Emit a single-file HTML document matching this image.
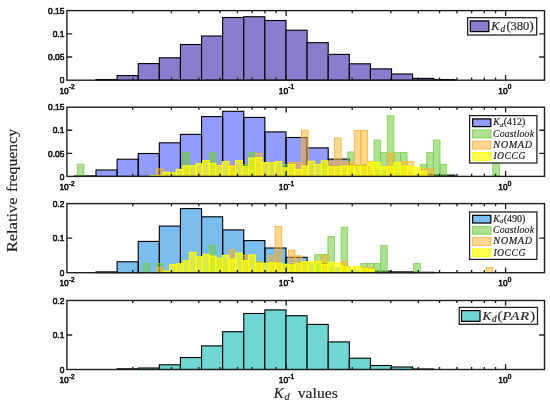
<!DOCTYPE html>
<html><head><meta charset="utf-8"><title>Kd histograms</title>
<style>
html,body{margin:0;padding:0;background:#fff;}
svg{display:block}
.t{font-family:"Liberation Sans",Arial,Helvetica,sans-serif;font-weight:normal;font-size:8.4px;fill:#101010;stroke:#101010;stroke-width:0.55px}
.s{font-family:"Liberation Serif","Times New Roman",serif;fill:#1e1e1e;stroke:#1e1e1e;stroke-width:0.18px}
.i{font-style:italic}
</style></head><body>
<svg width="550" height="405" viewBox="0 0 550 405">
<rect width="550" height="405" fill="#fff"/>
<!-- panel 1 -->
<g fill="#8B7DCD" stroke="#000" stroke-width="1.1"><rect x="96.00" y="79.50" width="21.11" height="0.70"/><rect x="117.11" y="75.60" width="21.11" height="4.60"/><rect x="138.22" y="63.60" width="21.11" height="16.60"/><rect x="159.33" y="57.80" width="21.11" height="22.40"/><rect x="180.44" y="44.50" width="21.11" height="35.70"/><rect x="201.55" y="36.00" width="21.11" height="44.20"/><rect x="222.66" y="17.50" width="21.11" height="62.70"/><rect x="243.77" y="16.70" width="21.11" height="63.50"/><rect x="264.88" y="20.50" width="21.11" height="59.70"/><rect x="285.99" y="30.20" width="21.11" height="50.00"/><rect x="307.10" y="42.70" width="21.11" height="37.50"/><rect x="328.21" y="54.40" width="21.11" height="25.80"/><rect x="349.32" y="63.80" width="21.11" height="16.40"/><rect x="370.43" y="68.90" width="21.11" height="11.30"/><rect x="391.54" y="74.00" width="21.11" height="6.20"/><rect x="412.65" y="78.40" width="21.11" height="1.80"/><rect x="433.76" y="79.50" width="21.11" height="0.70"/></g>
<path d="M132.76 80.2v-2.6M132.76 10.6v2.6M171.40 80.2v-2.6M171.40 10.6v2.6M198.82 80.2v-2.6M198.82 10.6v2.6M220.09 80.2v-2.6M220.09 10.6v2.6M237.47 80.2v-2.6M237.47 10.6v2.6M252.16 80.2v-2.6M252.16 10.6v2.6M264.88 80.2v-2.6M264.88 10.6v2.6M276.11 80.2v-2.6M276.11 10.6v2.6M286.15 80.2v-5.3M286.15 10.6v5.3M352.21 80.2v-2.6M352.21 10.6v2.6M390.85 80.2v-2.6M390.85 10.6v2.6M418.27 80.2v-2.6M418.27 10.6v2.6M439.54 80.2v-2.6M439.54 10.6v2.6M456.92 80.2v-2.6M456.92 10.6v2.6M471.61 80.2v-2.6M471.61 10.6v2.6M484.33 80.2v-2.6M484.33 10.6v2.6M495.56 80.2v-2.6M495.56 10.6v2.6M505.60 80.2v-5.3M505.60 10.6v5.3M66.9 57.00h5.3M544.5 57.00h-5.3M66.9 33.80h5.3M544.5 33.80h-5.3" stroke="#1e1e1e" stroke-width="1.35" fill="none"/>
<rect x="66.9" y="10.6" width="477.60" height="69.60" fill="none" stroke="#1e1e1e" stroke-width="1.4"/>
<text class="t" x="64.3" y="83.40" text-anchor="end">0</text><text class="t" x="64.3" y="60.20" text-anchor="end">0.05</text><text class="t" x="64.3" y="37.00" text-anchor="end">0.1</text><text class="t" x="64.3" y="13.80" text-anchor="end">0.15</text>
<text class="t" x="59.40" y="93.80">10<tspan dx="0.1" dy="-4.4" font-size="6.5px">-2</tspan></text><text class="t" x="278.85" y="93.80">10<tspan dx="0.1" dy="-4.4" font-size="6.5px">-1</tspan></text><text class="t" x="498.30" y="93.80">10<tspan dx="0.1" dy="-4.4" font-size="6.5px">0</tspan></text>
<!-- panel 2 -->
<clipPath id="cy1"><path clip-rule="evenodd" d="M0 0H550V405H0ZM149.54 175.30h7.19v1.40h-7.19zM156.14 175.10h7.19v1.60h-7.19zM162.73 171.90h7.19v4.80h-7.19zM169.33 172.50h7.19v4.20h-7.19zM175.92 169.10h7.19v7.60h-7.19zM182.52 165.50h7.19v11.20h-7.19zM189.11 165.50h7.19v11.20h-7.19zM195.71 163.40h7.19v13.30h-7.19zM202.30 160.40h7.19v16.30h-7.19zM208.90 163.00h7.19v13.70h-7.19zM215.50 165.20h7.19v11.50h-7.19zM222.09 161.30h7.19v15.40h-7.19zM228.69 166.20h7.19v10.50h-7.19zM235.28 160.40h7.19v16.30h-7.19zM241.88 166.20h7.19v10.50h-7.19zM248.47 157.90h7.19v18.80h-7.19zM255.06 157.30h7.19v19.40h-7.19zM261.66 162.40h7.19v14.30h-7.19zM268.25 162.70h7.19v14.00h-7.19zM274.85 161.30h7.19v15.40h-7.19zM281.44 167.60h7.19v9.10h-7.19zM288.04 164.20h7.19v12.50h-7.19zM294.63 169.40h7.19v7.30h-7.19zM301.23 165.70h7.19v11.00h-7.19zM307.82 161.00h7.19v15.70h-7.19zM314.42 164.20h7.19v12.50h-7.19zM321.01 160.50h7.19v16.20h-7.19zM327.61 166.50h7.19v10.20h-7.19zM334.20 166.50h7.19v10.20h-7.19zM340.80 165.70h7.19v11.00h-7.19zM347.39 165.70h7.19v11.00h-7.19zM353.99 165.70h7.19v11.00h-7.19zM360.58 165.70h7.19v11.00h-7.19zM367.18 162.10h7.19v14.60h-7.19zM373.77 162.10h7.19v14.60h-7.19zM380.37 166.50h7.19v10.20h-7.19zM386.96 166.50h7.19v10.20h-7.19zM393.56 162.10h7.19v14.60h-7.19zM400.15 165.70h7.19v11.00h-7.19zM406.75 166.10h7.19v10.60h-7.19zM413.34 167.20h7.19v9.50h-7.19zM419.94 170.90h7.19v5.80h-7.19z"/></clipPath>
<g fill="#929CFA" stroke="none" stroke-width="0"><rect x="74.89" y="175.90" width="21.11" height="0.50"/><rect x="96.00" y="170.00" width="21.11" height="6.40"/><rect x="117.11" y="159.20" width="21.11" height="17.20"/><rect x="138.22" y="153.50" width="21.11" height="22.90"/><rect x="159.33" y="142.80" width="21.11" height="33.60"/><rect x="180.44" y="134.40" width="21.11" height="42.00"/><rect x="201.55" y="116.60" width="21.11" height="59.80"/><rect x="222.66" y="111.30" width="21.11" height="65.10"/><rect x="243.77" y="117.40" width="21.11" height="59.00"/><rect x="264.88" y="131.90" width="21.11" height="44.50"/><rect x="285.99" y="137.50" width="21.11" height="38.90"/><rect x="307.10" y="147.90" width="21.11" height="28.50"/><rect x="328.21" y="159.10" width="21.11" height="17.30"/><rect x="349.32" y="165.40" width="21.11" height="11.00"/><rect x="370.43" y="169.90" width="21.11" height="6.50"/><rect x="391.54" y="172.40" width="21.11" height="4.00"/><rect x="412.65" y="174.40" width="21.11" height="2.00"/><rect x="433.76" y="175.10" width="21.11" height="1.30"/></g>
<g clip-path="url(#cy1)"><g fill="none" stroke="#000" stroke-width="1.1"><rect x="74.89" y="175.90" width="21.11" height="0.50"/><rect x="96.00" y="170.00" width="21.11" height="6.40"/><rect x="117.11" y="159.20" width="21.11" height="17.20"/><rect x="138.22" y="153.50" width="21.11" height="22.90"/><rect x="159.33" y="142.80" width="21.11" height="33.60"/><rect x="180.44" y="134.40" width="21.11" height="42.00"/><rect x="201.55" y="116.60" width="21.11" height="59.80"/><rect x="222.66" y="111.30" width="21.11" height="65.10"/><rect x="243.77" y="117.40" width="21.11" height="59.00"/><rect x="264.88" y="131.90" width="21.11" height="44.50"/><rect x="285.99" y="137.50" width="21.11" height="38.90"/><rect x="307.10" y="147.90" width="21.11" height="28.50"/><rect x="328.21" y="159.10" width="21.11" height="17.30"/><rect x="349.32" y="165.40" width="21.11" height="11.00"/><rect x="370.43" y="169.90" width="21.11" height="6.50"/><rect x="391.54" y="172.40" width="21.11" height="4.00"/><rect x="412.65" y="174.40" width="21.11" height="2.00"/><rect x="433.76" y="175.10" width="21.11" height="1.30"/></g>
</g>
<g fill="rgba(110,200,60,0.55)" stroke="rgba(115,208,60,0.85)" stroke-width="0.9"><rect x="77.30" y="164.20" width="6.59" height="12.20"/><rect x="182.82" y="152.40" width="6.59" height="24.00"/><rect x="209.20" y="152.40" width="6.59" height="24.00"/><rect x="242.18" y="164.60" width="6.59" height="11.80"/><rect x="248.77" y="152.70" width="6.59" height="23.70"/><rect x="281.75" y="164.50" width="6.59" height="11.90"/><rect x="321.31" y="164.40" width="6.59" height="12.00"/><rect x="347.69" y="152.00" width="6.59" height="24.40"/><rect x="374.07" y="140.10" width="6.59" height="36.30"/><rect x="380.67" y="152.40" width="6.59" height="24.00"/><rect x="387.26" y="115.80" width="6.59" height="60.60"/><rect x="393.86" y="152.40" width="6.59" height="24.00"/><rect x="400.45" y="152.40" width="6.59" height="24.00"/><rect x="420.24" y="164.30" width="6.59" height="12.10"/><rect x="426.83" y="152.40" width="6.59" height="24.00"/><rect x="433.43" y="140.10" width="6.59" height="36.30"/><rect x="440.02" y="164.30" width="6.59" height="12.10"/><rect x="492.78" y="152.40" width="6.59" height="24.00"/></g>
<g fill="rgba(250,175,35,0.5)" stroke="rgba(252,180,55,0.9)" stroke-width="0.9"><rect x="156.44" y="168.90" width="6.59" height="7.50"/><rect x="228.99" y="165.50" width="6.59" height="10.90"/><rect x="255.37" y="153.50" width="6.59" height="22.90"/><rect x="288.34" y="162.40" width="6.59" height="14.00"/><rect x="294.94" y="162.40" width="6.59" height="14.00"/><rect x="301.53" y="130.20" width="6.59" height="46.20"/><rect x="327.91" y="161.60" width="6.59" height="14.80"/><rect x="334.50" y="137.90" width="6.59" height="38.50"/><rect x="341.10" y="161.60" width="6.59" height="14.80"/><rect x="347.69" y="162.40" width="6.59" height="14.00"/><rect x="354.29" y="130.50" width="6.59" height="45.90"/><rect x="360.88" y="130.50" width="6.59" height="45.90"/><rect x="367.48" y="161.30" width="6.59" height="15.10"/><rect x="387.26" y="153.40" width="6.59" height="23.00"/><rect x="400.45" y="161.60" width="6.59" height="14.80"/><rect x="407.05" y="161.60" width="6.59" height="14.80"/><rect x="420.24" y="168.70" width="6.59" height="7.70"/><rect x="426.83" y="168.70" width="6.59" height="7.70"/></g>
<g fill="rgba(255,255,0,0.69)" stroke="rgba(255,255,0,1)" stroke-width="1.1"><rect x="149.84" y="175.60" width="6.59" height="0.80"/><rect x="156.44" y="175.40" width="6.59" height="1.00"/><rect x="163.03" y="172.20" width="6.59" height="4.20"/><rect x="169.63" y="172.80" width="6.59" height="3.60"/><rect x="176.22" y="169.40" width="6.59" height="7.00"/><rect x="182.82" y="165.80" width="6.59" height="10.60"/><rect x="189.41" y="165.80" width="6.59" height="10.60"/><rect x="196.01" y="163.70" width="6.59" height="12.70"/><rect x="202.60" y="160.70" width="6.59" height="15.70"/><rect x="209.20" y="163.30" width="6.59" height="13.10"/><rect x="215.80" y="165.50" width="6.59" height="10.90"/><rect x="222.39" y="161.60" width="6.59" height="14.80"/><rect x="228.99" y="166.50" width="6.59" height="9.90"/><rect x="235.58" y="160.70" width="6.59" height="15.70"/><rect x="242.18" y="166.50" width="6.59" height="9.90"/><rect x="248.77" y="158.20" width="6.59" height="18.20"/><rect x="255.37" y="157.60" width="6.59" height="18.80"/><rect x="261.96" y="162.70" width="6.59" height="13.70"/><rect x="268.56" y="163.00" width="6.59" height="13.40"/><rect x="275.15" y="161.60" width="6.59" height="14.80"/><rect x="281.75" y="167.90" width="6.59" height="8.50"/><rect x="288.34" y="164.50" width="6.59" height="11.90"/><rect x="294.94" y="169.70" width="6.59" height="6.70"/><rect x="301.53" y="166.00" width="6.59" height="10.40"/><rect x="308.12" y="161.30" width="6.59" height="15.10"/><rect x="314.72" y="164.50" width="6.59" height="11.90"/><rect x="321.31" y="160.80" width="6.59" height="15.60"/><rect x="327.91" y="166.80" width="6.59" height="9.60"/><rect x="334.50" y="166.80" width="6.59" height="9.60"/><rect x="341.10" y="166.00" width="6.59" height="10.40"/><rect x="347.69" y="166.00" width="6.59" height="10.40"/><rect x="354.29" y="166.00" width="6.59" height="10.40"/><rect x="360.88" y="166.00" width="6.59" height="10.40"/><rect x="367.48" y="162.40" width="6.59" height="14.00"/><rect x="374.07" y="162.40" width="6.59" height="14.00"/><rect x="380.67" y="166.80" width="6.59" height="9.60"/><rect x="387.26" y="166.80" width="6.59" height="9.60"/><rect x="393.86" y="162.40" width="6.59" height="14.00"/><rect x="400.45" y="166.00" width="6.59" height="10.40"/><rect x="407.05" y="166.40" width="6.59" height="10.00"/><rect x="413.64" y="167.50" width="6.59" height="8.90"/><rect x="420.24" y="171.20" width="6.59" height="5.20"/></g>
<path d="M132.76 176.4v-2.6M132.76 107.2v2.6M171.40 176.4v-2.6M171.40 107.2v2.6M198.82 176.4v-2.6M198.82 107.2v2.6M220.09 176.4v-2.6M220.09 107.2v2.6M237.47 176.4v-2.6M237.47 107.2v2.6M252.16 176.4v-2.6M252.16 107.2v2.6M264.88 176.4v-2.6M264.88 107.2v2.6M276.11 176.4v-2.6M276.11 107.2v2.6M286.15 176.4v-5.3M286.15 107.2v5.3M352.21 176.4v-2.6M352.21 107.2v2.6M390.85 176.4v-2.6M390.85 107.2v2.6M418.27 176.4v-2.6M418.27 107.2v2.6M439.54 176.4v-2.6M439.54 107.2v2.6M456.92 176.4v-2.6M456.92 107.2v2.6M471.61 176.4v-2.6M471.61 107.2v2.6M484.33 176.4v-2.6M484.33 107.2v2.6M495.56 176.4v-2.6M495.56 107.2v2.6M505.60 176.4v-5.3M505.60 107.2v5.3M66.9 153.33h5.3M544.5 153.33h-5.3M66.9 130.27h5.3M544.5 130.27h-5.3" stroke="#1e1e1e" stroke-width="1.35" fill="none"/>
<rect x="66.9" y="107.2" width="477.60" height="69.20" fill="none" stroke="#1e1e1e" stroke-width="1.4"/>
<text class="t" x="64.3" y="179.60" text-anchor="end">0</text><text class="t" x="64.3" y="156.53" text-anchor="end">0.05</text><text class="t" x="64.3" y="133.47" text-anchor="end">0.1</text><text class="t" x="64.3" y="110.40" text-anchor="end">0.15</text>
<text class="t" x="59.40" y="190.00">10<tspan dx="0.1" dy="-4.4" font-size="6.5px">-2</tspan></text><text class="t" x="278.85" y="190.00">10<tspan dx="0.1" dy="-4.4" font-size="6.5px">-1</tspan></text><text class="t" x="498.30" y="190.00">10<tspan dx="0.1" dy="-4.4" font-size="6.5px">0</tspan></text>
<!-- panel 3 -->
<clipPath id="cy2"><path clip-rule="evenodd" d="M0 0H550V405H0ZM162.73 270.80h7.19v2.20h-7.19zM169.33 264.40h7.19v8.60h-7.19zM175.92 263.40h7.19v9.60h-7.19zM182.52 260.50h7.19v12.50h-7.19zM189.11 252.10h7.19v20.90h-7.19zM195.71 256.50h7.19v16.50h-7.19zM202.30 254.00h7.19v19.00h-7.19zM208.90 255.80h7.19v17.20h-7.19zM215.50 258.00h7.19v15.00h-7.19zM222.09 255.10h7.19v17.90h-7.19zM228.69 258.80h7.19v14.20h-7.19zM235.28 252.80h7.19v20.20h-7.19zM241.88 260.30h7.19v12.70h-7.19zM248.47 254.60h7.19v18.40h-7.19zM255.06 263.20h7.19v9.80h-7.19zM261.66 262.90h7.19v10.10h-7.19zM268.25 262.50h7.19v10.50h-7.19zM274.85 262.90h7.19v10.10h-7.19zM281.44 264.00h7.19v9.00h-7.19zM288.04 264.70h7.19v8.30h-7.19zM294.63 263.20h7.19v9.80h-7.19zM301.23 261.40h7.19v11.60h-7.19zM307.82 261.70h7.19v11.30h-7.19zM314.42 261.00h7.19v12.00h-7.19zM321.01 264.00h7.19v9.00h-7.19zM327.61 262.00h7.19v11.00h-7.19zM334.20 263.20h7.19v9.80h-7.19zM340.80 266.20h7.19v6.80h-7.19zM347.39 266.90h7.19v6.10h-7.19zM353.99 266.20h7.19v6.80h-7.19zM360.58 268.40h7.19v4.60h-7.19zM367.18 269.40h7.19v3.60h-7.19z"/></clipPath>
<g fill="#7ABEF0" stroke="none" stroke-width="0"><rect x="96.00" y="271.90" width="21.11" height="0.80"/><rect x="117.11" y="261.80" width="21.11" height="10.90"/><rect x="138.22" y="241.40" width="21.11" height="31.30"/><rect x="159.33" y="226.10" width="21.11" height="46.60"/><rect x="180.44" y="208.60" width="21.11" height="64.10"/><rect x="201.55" y="216.80" width="21.11" height="55.90"/><rect x="222.66" y="229.90" width="21.11" height="42.80"/><rect x="243.77" y="240.60" width="21.11" height="32.10"/><rect x="264.88" y="248.00" width="21.11" height="24.70"/><rect x="285.99" y="257.30" width="21.11" height="15.40"/><rect x="307.10" y="263.70" width="21.11" height="9.00"/><rect x="328.21" y="267.20" width="21.11" height="5.50"/><rect x="349.32" y="269.70" width="21.11" height="3.00"/><rect x="370.43" y="271.20" width="21.11" height="1.50"/><rect x="391.54" y="271.90" width="21.11" height="0.80"/><rect x="412.65" y="272.30" width="21.11" height="0.40"/></g>
<g clip-path="url(#cy2)"><g fill="none" stroke="#000" stroke-width="1.1"><rect x="96.00" y="271.90" width="21.11" height="0.80"/><rect x="117.11" y="261.80" width="21.11" height="10.90"/><rect x="138.22" y="241.40" width="21.11" height="31.30"/><rect x="159.33" y="226.10" width="21.11" height="46.60"/><rect x="180.44" y="208.60" width="21.11" height="64.10"/><rect x="201.55" y="216.80" width="21.11" height="55.90"/><rect x="222.66" y="229.90" width="21.11" height="42.80"/><rect x="243.77" y="240.60" width="21.11" height="32.10"/><rect x="264.88" y="248.00" width="21.11" height="24.70"/><rect x="285.99" y="257.30" width="21.11" height="15.40"/><rect x="307.10" y="263.70" width="21.11" height="9.00"/><rect x="328.21" y="267.20" width="21.11" height="5.50"/><rect x="349.32" y="269.70" width="21.11" height="3.00"/><rect x="370.43" y="271.20" width="21.11" height="1.50"/><rect x="391.54" y="271.90" width="21.11" height="0.80"/><rect x="412.65" y="272.30" width="21.11" height="0.40"/></g>
</g>
<g fill="rgba(110,200,60,0.55)" stroke="rgba(115,208,60,0.85)" stroke-width="0.9"><rect x="143.25" y="263.50" width="6.59" height="9.20"/><rect x="156.44" y="263.50" width="6.59" height="9.20"/><rect x="209.20" y="245.40" width="6.59" height="27.30"/><rect x="215.80" y="258.30" width="6.59" height="14.40"/><rect x="222.39" y="263.70" width="6.59" height="9.00"/><rect x="314.72" y="254.60" width="6.59" height="18.10"/><rect x="321.31" y="254.60" width="6.59" height="18.10"/><rect x="327.91" y="236.60" width="6.59" height="36.10"/><rect x="341.10" y="227.20" width="6.59" height="45.50"/><rect x="360.88" y="263.50" width="6.59" height="9.20"/><rect x="367.48" y="263.50" width="6.59" height="9.20"/><rect x="374.07" y="263.50" width="6.59" height="9.20"/><rect x="380.67" y="245.40" width="6.59" height="27.30"/><rect x="413.64" y="263.50" width="6.59" height="9.20"/></g>
<g fill="rgba(250,175,35,0.5)" stroke="rgba(252,180,55,0.9)" stroke-width="0.9"><rect x="156.44" y="267.20" width="6.59" height="5.50"/><rect x="228.99" y="249.90" width="6.59" height="22.80"/><rect x="242.18" y="255.40" width="6.59" height="17.30"/><rect x="255.37" y="261.70" width="6.59" height="11.00"/><rect x="268.56" y="255.40" width="6.59" height="17.30"/><rect x="275.15" y="226.50" width="6.59" height="46.20"/><rect x="288.34" y="250.20" width="6.59" height="22.50"/><rect x="294.94" y="255.80" width="6.59" height="16.90"/><rect x="301.53" y="261.70" width="6.59" height="11.00"/><rect x="321.31" y="255.40" width="6.59" height="17.30"/><rect x="341.10" y="261.30" width="6.59" height="11.40"/><rect x="360.88" y="267.20" width="6.59" height="5.50"/><rect x="367.48" y="267.20" width="6.59" height="5.50"/><rect x="486.19" y="267.50" width="6.59" height="5.20"/></g>
<g fill="rgba(255,255,0,0.69)" stroke="rgba(255,255,0,1)" stroke-width="1.1"><rect x="163.03" y="271.10" width="6.59" height="1.60"/><rect x="169.63" y="264.70" width="6.59" height="8.00"/><rect x="176.22" y="263.70" width="6.59" height="9.00"/><rect x="182.82" y="260.80" width="6.59" height="11.90"/><rect x="189.41" y="252.40" width="6.59" height="20.30"/><rect x="196.01" y="256.80" width="6.59" height="15.90"/><rect x="202.60" y="254.30" width="6.59" height="18.40"/><rect x="209.20" y="256.10" width="6.59" height="16.60"/><rect x="215.80" y="258.30" width="6.59" height="14.40"/><rect x="222.39" y="255.40" width="6.59" height="17.30"/><rect x="228.99" y="259.10" width="6.59" height="13.60"/><rect x="235.58" y="253.10" width="6.59" height="19.60"/><rect x="242.18" y="260.60" width="6.59" height="12.10"/><rect x="248.77" y="254.90" width="6.59" height="17.80"/><rect x="255.37" y="263.50" width="6.59" height="9.20"/><rect x="261.96" y="263.20" width="6.59" height="9.50"/><rect x="268.56" y="262.80" width="6.59" height="9.90"/><rect x="275.15" y="263.20" width="6.59" height="9.50"/><rect x="281.75" y="264.30" width="6.59" height="8.40"/><rect x="288.34" y="265.00" width="6.59" height="7.70"/><rect x="294.94" y="263.50" width="6.59" height="9.20"/><rect x="301.53" y="261.70" width="6.59" height="11.00"/><rect x="308.12" y="262.00" width="6.59" height="10.70"/><rect x="314.72" y="261.30" width="6.59" height="11.40"/><rect x="321.31" y="264.30" width="6.59" height="8.40"/><rect x="327.91" y="262.30" width="6.59" height="10.40"/><rect x="334.50" y="263.50" width="6.59" height="9.20"/><rect x="341.10" y="266.50" width="6.59" height="6.20"/><rect x="347.69" y="267.20" width="6.59" height="5.50"/><rect x="354.29" y="266.50" width="6.59" height="6.20"/><rect x="360.88" y="268.70" width="6.59" height="4.00"/><rect x="367.48" y="269.70" width="6.59" height="3.00"/></g>
<path d="M132.76 272.7v-2.6M132.76 203.6v2.6M171.40 272.7v-2.6M171.40 203.6v2.6M198.82 272.7v-2.6M198.82 203.6v2.6M220.09 272.7v-2.6M220.09 203.6v2.6M237.47 272.7v-2.6M237.47 203.6v2.6M252.16 272.7v-2.6M252.16 203.6v2.6M264.88 272.7v-2.6M264.88 203.6v2.6M276.11 272.7v-2.6M276.11 203.6v2.6M286.15 272.7v-5.3M286.15 203.6v5.3M352.21 272.7v-2.6M352.21 203.6v2.6M390.85 272.7v-2.6M390.85 203.6v2.6M418.27 272.7v-2.6M418.27 203.6v2.6M439.54 272.7v-2.6M439.54 203.6v2.6M456.92 272.7v-2.6M456.92 203.6v2.6M471.61 272.7v-2.6M471.61 203.6v2.6M484.33 272.7v-2.6M484.33 203.6v2.6M495.56 272.7v-2.6M495.56 203.6v2.6M505.60 272.7v-5.3M505.60 203.6v5.3M66.9 238.15h5.3M544.5 238.15h-5.3" stroke="#1e1e1e" stroke-width="1.35" fill="none"/>
<rect x="66.9" y="203.6" width="477.60" height="69.10" fill="none" stroke="#1e1e1e" stroke-width="1.4"/>
<text class="t" x="64.3" y="275.90" text-anchor="end">0</text><text class="t" x="64.3" y="241.35" text-anchor="end">0.1</text><text class="t" x="64.3" y="206.80" text-anchor="end">0.2</text>
<text class="t" x="59.40" y="286.30">10<tspan dx="0.1" dy="-4.4" font-size="6.5px">-2</tspan></text><text class="t" x="278.85" y="286.30">10<tspan dx="0.1" dy="-4.4" font-size="6.5px">-1</tspan></text><text class="t" x="498.30" y="286.30">10<tspan dx="0.1" dy="-4.4" font-size="6.5px">0</tspan></text>
<!-- panel 4 -->
<g fill="#70D6D4" stroke="#000" stroke-width="1.1"><rect x="117.11" y="368.80" width="21.11" height="0.70"/><rect x="138.22" y="368.00" width="21.11" height="1.50"/><rect x="159.33" y="364.80" width="21.11" height="4.70"/><rect x="180.44" y="357.50" width="21.11" height="12.00"/><rect x="201.55" y="345.90" width="21.11" height="23.60"/><rect x="222.66" y="331.70" width="21.11" height="37.80"/><rect x="243.77" y="313.50" width="21.11" height="56.00"/><rect x="264.88" y="309.90" width="21.11" height="59.60"/><rect x="285.99" y="315.70" width="21.11" height="53.80"/><rect x="307.10" y="324.40" width="21.11" height="45.10"/><rect x="328.21" y="341.90" width="21.11" height="27.60"/><rect x="349.32" y="358.20" width="21.11" height="11.30"/><rect x="370.43" y="365.50" width="21.11" height="4.00"/><rect x="391.54" y="367.00" width="21.11" height="2.50"/><rect x="412.65" y="369.00" width="21.11" height="0.50"/></g>
<path d="M132.76 369.5v-2.6M132.76 300.5v2.6M171.40 369.5v-2.6M171.40 300.5v2.6M198.82 369.5v-2.6M198.82 300.5v2.6M220.09 369.5v-2.6M220.09 300.5v2.6M237.47 369.5v-2.6M237.47 300.5v2.6M252.16 369.5v-2.6M252.16 300.5v2.6M264.88 369.5v-2.6M264.88 300.5v2.6M276.11 369.5v-2.6M276.11 300.5v2.6M286.15 369.5v-5.3M286.15 300.5v5.3M352.21 369.5v-2.6M352.21 300.5v2.6M390.85 369.5v-2.6M390.85 300.5v2.6M418.27 369.5v-2.6M418.27 300.5v2.6M439.54 369.5v-2.6M439.54 300.5v2.6M456.92 369.5v-2.6M456.92 300.5v2.6M471.61 369.5v-2.6M471.61 300.5v2.6M484.33 369.5v-2.6M484.33 300.5v2.6M495.56 369.5v-2.6M495.56 300.5v2.6M505.60 369.5v-5.3M505.60 300.5v5.3M66.9 335.00h5.3M544.5 335.00h-5.3" stroke="#1e1e1e" stroke-width="1.35" fill="none"/>
<rect x="66.9" y="300.5" width="477.60" height="69.00" fill="none" stroke="#1e1e1e" stroke-width="1.4"/>
<text class="t" x="64.3" y="372.70" text-anchor="end">0</text><text class="t" x="64.3" y="338.20" text-anchor="end">0.1</text><text class="t" x="64.3" y="303.70" text-anchor="end">0.2</text>
<text class="t" x="59.40" y="383.10">10<tspan dx="0.1" dy="-4.4" font-size="6.5px">-2</tspan></text><text class="t" x="278.85" y="383.10">10<tspan dx="0.1" dy="-4.4" font-size="6.5px">-1</tspan></text><text class="t" x="498.30" y="383.10">10<tspan dx="0.1" dy="-4.4" font-size="6.5px">0</tspan></text>
<!-- legends -->
<rect x="467.6" y="17.7" width="69.1" height="17.3" fill="#fff" stroke="#1e1e1e" stroke-width="1.25"/><rect x="470.3" y="20.9" width="18.5" height="10.7" fill="#8B7DCD" stroke="#000" stroke-width="1.25"/><text class="s i" x="490.9" y="30.0" font-size="13px">K</text><text class="s i" x="500.6" y="32.08" font-size="9.36px">d</text><text class="s" x="506.4" y="30.0" font-size="13px" textLength="27.2" lengthAdjust="spacingAndGlyphs">(380)</text>
<rect x="459.2" y="307.4" width="78.3" height="16.9" fill="#fff" stroke="#1e1e1e" stroke-width="1.25"/><rect x="461.5" y="310.6" width="18.5" height="10.7" fill="#70D6D4" stroke="#000" stroke-width="1.25"/><text class="s i" x="482.6" y="319.9" font-size="13px">K</text><text class="s i" x="492.0" y="321.98" font-size="9.36px">d</text><text class="s" x="497.6" y="319.9" font-size="13px" textLength="37.5" lengthAdjust="spacingAndGlyphs">(<tspan class="i" letter-spacing="0.9">PAR</tspan>)</text>
<rect x="469.6" y="115.6" width="67.3" height="47.4" fill="#fff" stroke="#1e1e1e" stroke-width="1.25"/><rect x="472.6" y="118.9" width="18.2" height="7.7" fill="#929CFA" stroke="#000" stroke-width="1.25"/><rect x="472.5" y="130.0" width="18.4" height="7.8" fill="rgba(110,200,60,0.55)" stroke="rgba(115,208,60,0.85)" stroke-width="1.0"/><rect x="472.5" y="141.2" width="18.4" height="7.8" fill="rgba(250,175,35,0.5)" stroke="rgba(252,180,55,0.9)" stroke-width="1.0"/><rect x="472.5" y="152.5" width="18.4" height="7.8" fill="rgba(255,255,0,0.69)" stroke="rgba(255,255,0,1)" stroke-width="1.0"/><text class="s i" x="493.2" y="125.4" font-size="9.8px">K</text><text class="s i" x="499.8" y="126.97" font-size="7.06px">d</text><text class="s" x="503.7" y="125.4" font-size="9.8px" textLength="21.7" lengthAdjust="spacingAndGlyphs">(412)</text><text class="s i" x="493.0" y="136.5" font-size="9.8px" textLength="41" lengthAdjust="spacing">Coastlook</text><text class="s i" x="493.2" y="147.8" font-size="9.8px" textLength="39.5" lengthAdjust="spacingAndGlyphs" letter-spacing="0.6">NOMAD</text><text class="s i" x="493.4" y="159.1" font-size="9.8px" textLength="32.5" lengthAdjust="spacingAndGlyphs" letter-spacing="0.5">IOCCG</text>
<rect x="469.6" y="212.0" width="67.3" height="47.4" fill="#fff" stroke="#1e1e1e" stroke-width="1.25"/><rect x="472.6" y="215.3" width="18.2" height="7.7" fill="#7ABEF0" stroke="#000" stroke-width="1.25"/><rect x="472.5" y="226.4" width="18.4" height="7.8" fill="rgba(110,200,60,0.55)" stroke="rgba(115,208,60,0.85)" stroke-width="1.0"/><rect x="472.5" y="237.6" width="18.4" height="7.8" fill="rgba(250,175,35,0.5)" stroke="rgba(252,180,55,0.9)" stroke-width="1.0"/><rect x="472.5" y="248.9" width="18.4" height="7.8" fill="rgba(255,255,0,0.69)" stroke="rgba(255,255,0,1)" stroke-width="1.0"/><text class="s i" x="493.2" y="221.8" font-size="9.8px">K</text><text class="s i" x="499.8" y="223.37" font-size="7.06px">d</text><text class="s" x="503.7" y="221.8" font-size="9.8px" textLength="21.7" lengthAdjust="spacingAndGlyphs">(490)</text><text class="s i" x="493.0" y="232.9" font-size="9.8px" textLength="41" lengthAdjust="spacing">Coastlook</text><text class="s i" x="493.2" y="244.2" font-size="9.8px" textLength="39.5" lengthAdjust="spacingAndGlyphs" letter-spacing="0.6">NOMAD</text><text class="s i" x="493.4" y="255.5" font-size="9.8px" textLength="32.5" lengthAdjust="spacingAndGlyphs" letter-spacing="0.5">IOCCG</text>
<text class="s" font-size="15.6px" transform="translate(16.5,252.3) rotate(-90)" textLength="54.9" lengthAdjust="spacingAndGlyphs">Relative</text><text class="s" font-size="15.6px" transform="translate(16.5,192.0) rotate(-90)" textLength="63.1" lengthAdjust="spacingAndGlyphs">frequency</text>
<text class="s i" x="273.8" y="398.4" font-size="14.8px">K</text><text class="s i" x="284.6" y="400.4" font-size="10.2px">d</text><text class="s" x="297.8" y="398.4" font-size="14.8px" textLength="40" lengthAdjust="spacingAndGlyphs">values</text>
</svg>
</body></html>
